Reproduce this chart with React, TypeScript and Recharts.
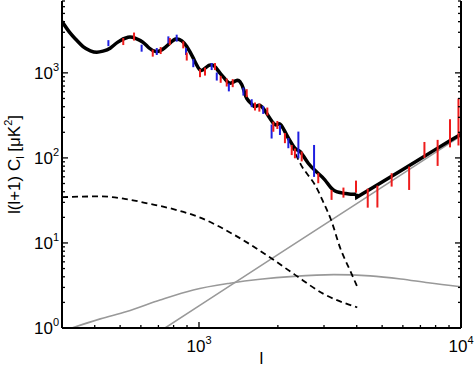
import React from "react";
import { ComposedChart, Line, Scatter, ErrorBar, XAxis, YAxis } from "recharts";

const FONT = "'Liberation Sans', Arial, Helvetica, sans-serif";

// full model, l(l+1)C_l [uK^2], up to where the CMB part is cut at l=4000
const totalModel: [number, number][] = [
  [300, 4015], [322, 2950], [340, 2450], [361, 2040], [385, 1820], [407, 1750],
  [430, 1800], [458, 1951], [490, 2300], [536, 2620], [570, 2560], [610, 2300],
  [645, 1960], [685, 1780], [725, 1880], [770, 2200], [815, 2500], [860, 2380],
  [898, 2040], [950, 1500], [1009, 1084], [1060, 1150], [1118, 1242], [1160, 1150],
  [1203, 992], [1260, 840], [1313, 757], [1380, 805], [1433, 790], [1480, 640],
  [1521, 500], [1589, 430], [1640, 400], [1710, 415], [1811, 336], [1922, 256],
  [1980, 245], [2037, 251], [2100, 220], [2160, 187], [2250, 150], [2323, 130],
  [2400, 122], [2466, 113], [2612, 86.6], [2803, 69], [3025, 55], [3256, 42],
  [3559, 38.5], [3800, 37.5], [3990, 37.7],
];
// beyond l=4000 only the foregrounds are left
const totalTail: [number, number][] = [
  [3990, 37.7], [4000, 34.5], [5000, 52], [6000, 73], [7000, 98], [8000, 126],
  [9000, 157], [10000, 190],
];

// lensed CMB (dashed), only the part that leaves the total curve
const cmbDashed: [number, number][] = [
  [1922, 250], [2037, 244], [2160, 180], [2250, 140], [2323, 115], [2400, 94],
  [2466, 80], [2577, 66], [2773, 48], [3000, 29], [3185, 19], [3470, 8.5],
  [3790, 4.6], [4018, 3.06],
];

// SZ-like dashed component
const szDashed: [number, number][] = [
  [300, 34.5], [419, 35.3], [520, 33], [650, 28.8], [798, 25], [1000, 20.1],
  [1360, 12.5], [1823, 7.1], [2306, 4.3], [3000, 2.5], [4018, 1.75],
];

// grey foregrounds
const poissonGrey: [number, number][] = [
  [742, 1], [1000, 1.82], [2000, 7.3], [4000, 29], [10000, 182],
];
const clusteredGrey: [number, number][] = [
  [327, 1.0], [420, 1.28], [530, 1.56], [710, 2.13], [951, 2.8], [1313, 3.36],
  [1710, 3.74], [2300, 4.05], [3275, 4.24], [4500, 4.1], [5890, 3.77],
  [7500, 3.4], [10000, 3.06],
];

// band powers: [l, value, bottom of bar, top of bar]
const redBands: [number, number, number, number][] = [
  [514, 2335, 2124, 2567], [565, 2673, 2398, 2979], [666, 1706, 1552, 1876],
  [714, 1830, 1665, 2012], [774, 2335, 2124, 2567], [871, 2135, 1942, 2347],
  [898, 1556, 1396, 1734], [1009, 992, 890, 1106], [1054, 1035, 929, 1153],
  [1151, 1186, 1079, 1304], [1210, 840, 764, 923], [1276, 770, 691, 858],
  [1345, 757, 679, 844], [1521, 577, 518, 643], [1636, 402, 361, 448],
  [1700, 390, 350, 435], [1823, 351, 315, 391], [1922, 233, 203, 267],
  [1991, 244, 219, 272], [2128, 171, 149, 196], [2259, 124, 108, 142],
  [2323, 113, 99, 129], [2466, 104, 91, 119], [2852, 57.7, 50.4, 66.1],
  [3206, 36.7, 32.1, 42.0], [3559, 39.1, 34.1, 44.8], [3975, 46, 39.1, 54.1],
  [4406, 33.6, 26.0, 43.5], [4796, 35.1, 26.1, 47.3], [5436, 55.1, 46.0, 66.1],
  [6339, 57.7, 42.0, 79.2], [7251, 124, 99.9, 154], [8143, 114.5, 80.5, 163],
  [9077, 195, 133, 285], [9780, 267, 140, 500],
];
const blueBands: [number, number, number, number][] = [
  [451, 2236, 2062, 2425], [604, 1951, 1775, 2145], [690, 1782, 1621, 1959],
  [764, 2443, 2222, 2686], [822, 2559, 2328, 2813], [892, 1782, 1621, 1959],
  [951, 1300, 1166, 1449], [1118, 1186, 1079, 1304], [1169, 905, 812, 1009],
  [1300, 675, 606, 752], [1477, 603, 541, 672], [1589, 440, 395, 490],
  [1758, 367, 329, 409], [1893, 204, 169, 247], [2037, 213, 186, 244],
  [2193, 149, 130, 171], [2395, 142, 99, 204], [2749, 92.2, 59.8, 142],
];

const xTicks = [
  400, 500, 600, 700, 800, 900, 1000,
  2000, 3000, 4000, 5000, 6000, 7000, 8000, 9000, 10000,
];
const yTicks = [
  1, 2, 3, 4, 5, 6, 7, 8, 9,
  10, 20, 30, 40, 50, 60, 70, 80, 90,
  100, 200, 300, 400, 500, 600, 700, 800, 900,
  1000, 2000, 3000, 4000, 5000, 6000, 7000,
];

const toXY = (pts: [number, number][]) => pts.map(([l, c]) => ({ l, c }));
const toBars = (pts: [number, number, number, number][]) =>
  pts.map(([l, c, lo, hi]) => ({ l, c, err: [c - lo, hi - c] }));

const isMajor = (v: number) =>
  Math.abs(Math.log10(v) - Math.round(Math.log10(v))) < 1e-6;

const MAJOR = 6;
const MINOR = 3;

function BottomTick(props: any) {
  const { x, y, payload } = props;
  const v = payload.value;
  const major = isMajor(v);
  return (
    <g>
      <line x1={x} x2={x} y1={y} y2={y - (major ? MAJOR : MINOR)} stroke="#000" strokeWidth={1.3} />
      {major && (
        <text x={x} y={y + 24} textAnchor="middle" fontSize={17} fontFamily={FONT} fill="#000">
          10
          <tspan dy={-8} fontSize={11}>{Math.round(Math.log10(v))}</tspan>
        </text>
      )}
    </g>
  );
}

function TopTick(props: any) {
  const { x, y, payload } = props;
  const major = isMajor(payload.value);
  return <line x1={x} x2={x} y1={y} y2={y + (major ? MAJOR : MINOR)} stroke="#000" strokeWidth={1.3} />;
}

function LeftTick(props: any) {
  const { x, y, payload } = props;
  const v = payload.value;
  const major = isMajor(v);
  return (
    <g>
      <line x1={x} x2={x + (major ? MAJOR : MINOR)} y1={y} y2={y} stroke="#000" strokeWidth={1.3} />
      {major && (
        <text x={x - 3} y={y + 6} textAnchor="end" fontSize={17} fontFamily={FONT} fill="#000">
          10
          <tspan dy={-8} fontSize={11}>{Math.round(Math.log10(v))}</tspan>
        </text>
      )}
    </g>
  );
}

function RightTick(props: any) {
  const { x, y, payload } = props;
  const major = isMajor(payload.value);
  return <line x1={x} x2={x - (major ? MAJOR : MINOR)} y1={y} y2={y} stroke="#000" strokeWidth={1.3} />;
}

function YTitle(props: any) {
  const vb = props.viewBox || { x: 0, y: 1, width: 62, height: 327 };
  const cx = vb.x + 20;
  const cy = vb.y + vb.height / 2;
  return (
    <text
      x={cx}
      y={cy}
      transform={`rotate(-90 ${cx} ${cy})`}
      textAnchor="middle"
      fontSize={17}
      fontFamily={FONT}
      fill="#000"
    >
      l(l+1) C
      <tspan dy={4} fontSize={11}>l</tspan>
      <tspan dy={-4}>{"  [\u03BCK"}</tspan>
      <tspan dy={-8} fontSize={11}>2</tspan>
      <tspan dy={8}>]</tspan>
    </text>
  );
}

function XTitle(props: any) {
  const vb = props.viewBox || { x: 62, y: 328, width: 399, height: 40 };
  return (
    <text x={vb.x + vb.width / 2} y={vb.y + 36} textAnchor="middle" fontSize={17} fontFamily={FONT} fill="#000">
      l
    </text>
  );
}

const axisLine = { stroke: "#000", strokeWidth: 2 };

export default function App() {
  return (
    <div style={{ position: "absolute", left: 0, top: 0, background: "#fff" }}>
      <ComposedChart width={474} height={368} margin={{ top: 1, right: 0, bottom: 0, left: 0 }}>
        <XAxis
          dataKey="l"
          type="number"
          scale="log"
          domain={[300, 10000]}
          allowDataOverflow
          ticks={xTicks}
          interval={0}
          tickSize={0}
          tickMargin={0}
          tickLine={false}
          axisLine={axisLine}
          tick={<BottomTick />}
          height={40}
          label={<XTitle />}
        />
        <XAxis
          xAxisId="top"
          orientation="top"
          dataKey="l"
          type="number"
          scale="log"
          domain={[300, 10000]}
          allowDataOverflow
          ticks={xTicks}
          interval={0}
          tickSize={0}
          tickMargin={0}
          tickLine={false}
          axisLine={axisLine}
          tick={<TopTick />}
          height={0}
        />
        <YAxis
          type="number"
          scale="log"
          domain={[1, 7000]}
          allowDataOverflow
          ticks={yTicks}
          interval={0}
          tickSize={0}
          tickMargin={0}
          tickLine={false}
          axisLine={axisLine}
          tick={<LeftTick />}
          width={62}
          label={<YTitle />}
        />
        <YAxis
          yAxisId="right"
          orientation="right"
          type="number"
          scale="log"
          domain={[1, 7000]}
          allowDataOverflow
          ticks={yTicks}
          interval={0}
          tickSize={0}
          tickMargin={0}
          tickLine={false}
          axisLine={axisLine}
          tick={<RightTick />}
          width={13}
        />

        <Line data={toXY(clusteredGrey)} dataKey="c" type="monotone" stroke="#999" strokeWidth={1.6} dot={false} isAnimationActive={false} />
        <Line data={toXY(poissonGrey)} dataKey="c" type="linear" stroke="#999" strokeWidth={1.6} dot={false} isAnimationActive={false} />
        <Line data={toXY(szDashed)} dataKey="c" type="monotone" stroke="#000" strokeWidth={1.8} strokeDasharray="6 4" dot={false} isAnimationActive={false} />
        <Line data={toXY(cmbDashed)} dataKey="c" type="monotone" stroke="#000" strokeWidth={1.8} strokeDasharray="6 4" dot={false} isAnimationActive={false} />
        <Line data={toXY(totalModel)} dataKey="c" type="natural" stroke="#000" strokeWidth={3.5} dot={false} isAnimationActive={false} />
        <Line data={toXY(totalTail)} dataKey="c" type="linear" stroke="#000" strokeWidth={3.5} dot={false} isAnimationActive={false} />

        <Scatter data={toBars(blueBands)} dataKey="c" shape={() => <g />} isAnimationActive={false}>
          <ErrorBar dataKey="err" direction="y" width={0} stroke="#1f1fe0" strokeWidth={2} isAnimationActive={false} />
        </Scatter>
        <Scatter data={toBars(redBands)} dataKey="c" shape={() => <g />} isAnimationActive={false}>
          <ErrorBar dataKey="err" direction="y" width={0} stroke="#ee1c1c" strokeWidth={2} isAnimationActive={false} />
        </Scatter>
      </ComposedChart>
    </div>
  );
}
